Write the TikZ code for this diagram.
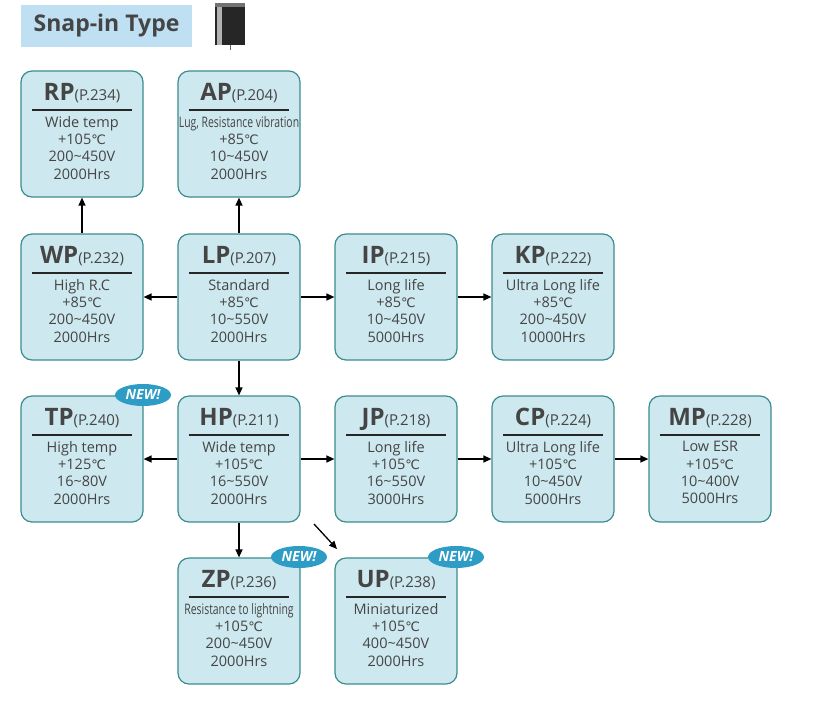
\documentclass[tikz,border=0pt]{standalone}
\usepackage{fontspec}
\setmainfont{Open Sans}
\newfontfamily\djv{DejaVu Sans}
\newcommand\degc{{\djv\fontsize{13}{13}\selectfont ℃}}
\usetikzlibrary{arrows.meta,shapes.geometric}
\definecolor{boxfill}{HTML}{CDE8EE}
\definecolor{boxdraw}{HTML}{3A8C8E}
\definecolor{txt}{HTML}{454545}
\definecolor{titlebg}{HTML}{BEE0F2}
\definecolor{badge}{HTML}{2E9DC5}
\tikzset{
  pbox/.style={draw=boxdraw,line width=1.2pt,fill=boxfill,rounded corners=11pt,minimum width=122pt,minimum height=126pt,inner sep=0pt},
  conn/.style={-{Triangle[length=8pt,width=7pt]},line width=1.3pt,black},
  newb/.style={ellipse,fill=badge,text=white,font=\bfseries\itshape\fontsize{14}{14}\selectfont,inner xsep=1pt,inner ysep=1pt,minimum width=56pt,minimum height=22pt},
}
\newcommand\pbx[6]{%
  \node[pbox] (#1) at (#2,-#3-63) {};
  \node[text=txt,anchor=base] (#1h) at (#2,-#3-29) {{\bfseries\fontsize{24}{24}\selectfont #4}{\fontsize{15}{15}\selectfont(P.#5)}};
  \draw[line width=1.3pt,black!85] (#2-50,-#3-39) -- (#2+50,-#3-39);
  \node[text=txt,anchor=north,align=center,font=\fontsize{14.5}{17.3}\selectfont,inner sep=0pt] (#1t) at (#2,-#3-45) {#6};
}
\begin{document}
\begin{tikzpicture}[x=1pt,y=1pt]
\useasboundingbox (0,0) rectangle (818,-705);
\node[fill=titlebg,minimum width=171pt,minimum height=42pt,inner sep=0pt,text=txt,font=\bfseries\fontsize{23}{23}\selectfont] (title) at (106.5,-26) {Snap-in Type};
\fill[black!85] (215,-5) rectangle (245,-45);
\fill[black!30] (217,-5) rectangle (222,-45);
\fill[black!55] (215,-3) rectangle (245,-7);
\draw[black!60] (230,-45) -- (230,-50);
\node[minimum size=1pt,inner sep=0pt] (capimg) at (230,-25) {};

\pbx{RP}{82}{71}{RP}{234}{Wide temp\\+105\degc\\200\textasciitilde450V\\2000Hrs}
\pbx{AP}{239}{71}{AP}{204}{\scalebox{0.72}[1]{Lug, Resistance vibration}\\+85\degc\\10\textasciitilde450V\\2000Hrs}
\pbx{WP}{82}{234}{WP}{232}{High R.C\\+85\degc\\200\textasciitilde450V\\2000Hrs}
\pbx{LP}{239}{234}{LP}{207}{Standard\\+85\degc\\10\textasciitilde550V\\2000Hrs}
\pbx{IP}{396}{234}{IP}{215}{Long life\\+85\degc\\10\textasciitilde450V\\5000Hrs}
\pbx{KP}{553}{234}{KP}{222}{Ultra Long life\\+85\degc\\200\textasciitilde450V\\10000Hrs}
\pbx{TP}{82}{396}{TP}{240}{High temp\\+125\degc\\16\textasciitilde80V\\2000Hrs}
\pbx{HP}{239}{396}{HP}{211}{Wide temp\\+105\degc\\16\textasciitilde550V\\2000Hrs}
\pbx{JP}{396}{396}{JP}{218}{Long life\\+105\degc\\16\textasciitilde550V\\3000Hrs}
\pbx{CP}{553}{396}{CP}{224}{Ultra Long life\\+105\degc\\10\textasciitilde450V\\5000Hrs}
\pbx{MP}{710}{396}{MP}{228}{Low ESR\\+105\degc\\10\textasciitilde400V\\5000Hrs}
\pbx{ZP}{239}{558}{ZP}{236}{\scalebox{0.72}[1]{Resistance to lightning}\\+105\degc\\200\textasciitilde450V\\2000Hrs}
\pbx{UP}{396}{558}{UP}{238}{Miniaturized\\+105\degc\\400\textasciitilde450V\\2000Hrs}

\draw[conn] (WP.north) -- (RP.south);
\draw[conn] (LP.north) -- (AP.south);
\draw[conn] (LP.west) -- (WP.east);
\draw[conn] (LP.east) -- (IP.west);
\draw[conn] (IP.east) -- (KP.west);
\draw[conn] (LP.south) -- (HP.north);
\draw[conn] (HP.west) -- (TP.east);
\draw[conn] (HP.east) -- (JP.west);
\draw[conn] (JP.east) -- (CP.west);
\draw[conn] (CP.east) -- (MP.west);
\draw[conn] (HP.south) -- (ZP.north);
\coordinate (d1) at (314,-524);
\coordinate (d2) at (337,-549);
\draw[conn] (d1) -- (d2);

\node[newb] (n1) at (143,-395) {NEW!};
\node[newb] (n2) at (299,-557) {NEW!};
\node[newb] (n3) at (456,-557) {NEW!};
\end{tikzpicture}
\end{document}
